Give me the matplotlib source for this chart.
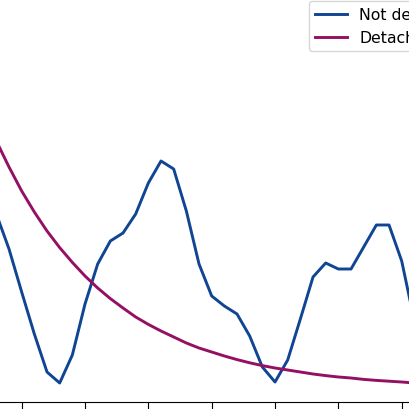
import matplotlib
matplotlib.use("Agg")
import matplotlib.pyplot as plt
import numpy as np

# sample index (x) and the two series
steps = list(range(8, 42))
not_detached = [4.70, 3.825, 2.75, 1.70, 0.75, 0.475, 1.175, 2.45, 3.45, 4.025,
                4.225, 4.70, 5.475, 6.025, 5.825, 4.775, 3.45, 2.65, 2.40, 2.20,
                1.65, 0.875, 0.50, 1.05, 2.075, 3.125, 3.475, 3.325, 3.325, 3.875,
                4.425, 4.425, 3.525, 2.025]
detached = [6.525, 5.875, 5.275, 4.75, 4.275, 3.86, 3.49, 3.15, 2.85, 2.585,
            2.35, 2.125, 1.94, 1.775, 1.625, 1.475, 1.35, 1.25, 1.15, 1.06,
            0.98, 0.91, 0.85, 0.80, 0.75, 0.70, 0.66, 0.625, 0.60, 0.565,
            0.54, 0.52, 0.50, 0.475]
xticks = [10, 15, 20, 25, 30, 35, 40]

W = H = 410
fig = plt.figure(figsize=(4.1, 4.1), dpi=100)
# axes is larger than the figure: only part of the original plot is visible
px_left, px_right = -105.0, 477.7
px_top, px_bottom = -6.0, 403.0
ax = fig.add_axes([px_left / W, (H - px_bottom) / H,
                   (px_right - px_left) / W, (px_bottom - px_top) / H])

ax.plot(steps, not_detached, color="#0f4592", lw=2.1, label="Not detached")
ax.plot(steps, detached, color="#941063", lw=2.1, label="Detached")

ax.set_xlim(0, 46)
ax.set_ylim(0, (px_bottom - px_top) / 40)
ax.set_xticks(xticks)
ax.tick_params(axis="x", length=8, width=0.8)
ax.spines["top"].set_visible(False)
ax.spines["right"].set_visible(False)

ax.legend(loc="upper left", bbox_to_anchor=(309 / W, 1 - 2 / H),
          bbox_transform=fig.transFigure, borderaxespad=0, fontsize=11.3)

fig.savefig("out.png", dpi=100)
